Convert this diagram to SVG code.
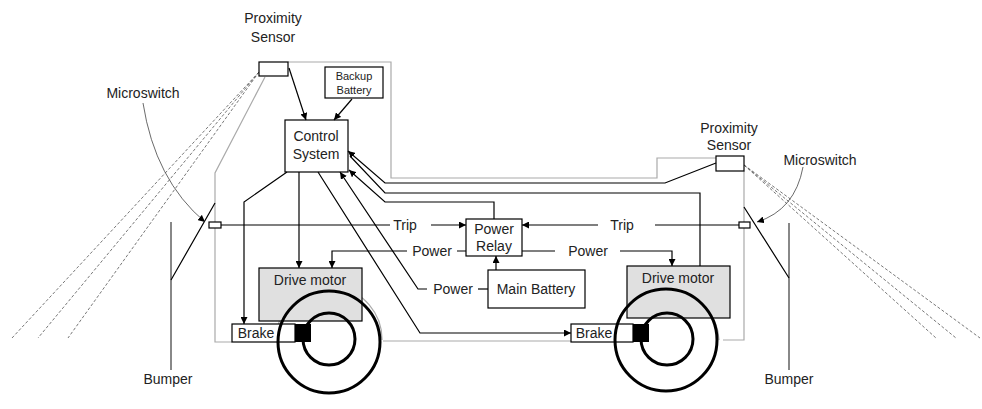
<svg xmlns="http://www.w3.org/2000/svg" width="982" height="409" viewBox="0 0 982 409">
<defs>
<marker id="a" viewBox="0 0 10 10" refX="10" refY="5" markerWidth="7" markerHeight="7" orient="auto" markerUnits="userSpaceOnUse"><path d="M0,0L10,5L0,10z" fill="#000"/></marker>
<style>
text{font-family:"Liberation Sans",Arial,sans-serif;font-size:14px;fill:#222;text-anchor:middle}
.s{font-size:11px}
.b{fill:#fff;stroke:#000;stroke-width:1.2}
.g{fill:none;stroke:#aaa;stroke-width:1.2}
.w{fill:none;stroke:#000;stroke-width:1.2}
.d{fill:none;stroke:#555;stroke-width:0.8;stroke-dasharray:3,2}
.wh{fill:none;stroke:#000;stroke-width:3}
</style>
</defs>
<rect width="982" height="409" fill="#fff"/>
<g id="body">
<path class="g" d="M288,62H391V178H657V158H716M744,171V340H723M265,77L215,173V342H232M383,341H572"/>
<path class="g" d="M278,325A53,53 0 0 1 382,340M616,325A53,53 0 0 1 719,340" stroke-width="0.8"/>
</g>
<g id="beams">
<path class="d" d="M259,72L12,338M259,72L38,338M259,72L68,338M744,165L936,338M744,165L956,338M744,165L980,338"/>
</g>
<g id="bumpers">
<path d="M171,222V370M789,223V370" stroke="#888" stroke-width="2" fill="none"/>
<path class="w" d="M171,280L215,203M744,207L789,278"/>
<text x="168" y="384">Bumper</text><text x="789" y="384">Bumper</text>
</g>
<g id="microswitches">
<rect class="b" x="209" y="222" width="12" height="6"/>
<rect class="b" x="739" y="222" width="11" height="6"/>
<text x="143" y="98">Microswitch</text><text x="820" y="165">Microswitch</text>
<path d="M143,103Q155,180 205,222" fill="none" stroke="#444" stroke-width="0.8" marker-end="url(#a)"/>
<path d="M803,167Q795,210 757,222" fill="none" stroke="#444" stroke-width="0.8" marker-end="url(#a)"/>
</g>
<g id="sensorL"><rect class="b" x="259" y="62" width="29" height="14"/><text x="273" y="23">Proximity</text><text x="273" y="42">Sensor</text></g>
<g id="sensorR"><rect class="b" x="716" y="156" width="28" height="15"/><text x="729" y="133">Proximity</text><text x="729" y="150">Sensor</text></g>
<g id="backup"><rect class="b" x="325" y="67" width="58" height="31"/><text class="s" x="354" y="80">Backup</text><text class="s" x="354" y="94">Battery</text></g>
<g id="control"><rect class="b" x="285" y="120" width="63" height="52"/><text x="316" y="141">Control</text><text x="316" y="159">System</text></g>
<g id="relay"><rect class="b" x="466" y="219" width="56" height="37"/><text x="494" y="234">Power</text><text x="494" y="251">Relay</text></g>
<g id="mainbat"><rect class="b" x="488" y="270" width="97" height="38"/><text x="536" y="294">Main Battery</text></g>
<g id="motorL"><rect x="259" y="268" width="103" height="53" fill="#e0e0e0" stroke="#000" stroke-width="1.2"/><text x="310" y="285">Drive motor</text></g>
<g id="motorR"><rect x="627" y="266" width="103" height="52" fill="#e0e0e0" stroke="#000" stroke-width="1.2"/><text x="678" y="283">Drive motor</text></g>
<g id="brakeL"><rect class="b" x="232" y="324" width="63" height="18"/><text x="256" y="338">Brake</text></g>
<g id="brakeR"><rect class="b" x="571" y="324" width="62" height="18"/><text x="594" y="338">Brake</text></g>
<g id="wheelL"><circle class="wh" cx="329" cy="342" r="51"/><circle class="wh" cx="329" cy="339" r="26"/><rect x="295" y="324" width="16" height="18"/></g>
<g id="wheelR"><circle class="wh" cx="666" cy="340" r="51"/><circle class="wh" cx="667" cy="339" r="26"/><rect x="633" y="324" width="16" height="18"/></g>
<g id="connectors">
<path class="w" d="M289,68L306,120" marker-end="url(#a)"/>
<path class="w" d="M352,99L334,120" stroke-width="1.6" marker-end="url(#a)"/>
<path class="w" d="M716,163L665,183H385L348,151" marker-end="url(#a)"/>
<path class="w" d="M700,266V193H385L350,156" stroke="#333" stroke-width="1.6"/>
<path class="w" d="M494,219V202H385L349,170" marker-end="url(#a)"/>
<path class="w" d="M287,172L244,202V324" marker-end="url(#a)"/>
<path class="w" d="M299,172V268" marker-end="url(#a)"/>
<path class="w" d="M318,172L420,333H571" marker-end="url(#a)"/>
<path class="w" d="M221,225H390M431,225H466" marker-end="url(#a)"/>
<path class="w" d="M739,225H655M598,225H522" marker-end="url(#a)"/>
<text x="405" y="230">Trip</text><text x="622" y="230">Trip</text>
<path class="w" d="M466,251H457M407,251H332V268" marker-end="url(#a)"/>
<path class="w" d="M522,251H555M620,251H672V266" marker-end="url(#a)"/>
<text x="432" y="256">Power</text><text x="588" y="256">Power</text>
<path class="w" d="M496,270V256" marker-end="url(#a)"/>
<path class="w" d="M488,289H478"/>
<path class="w" d="M427,289H418L340,172" stroke-width="1.8" marker-end="url(#a)"/>
<text x="453" y="294">Power</text>
</g>
</svg>
